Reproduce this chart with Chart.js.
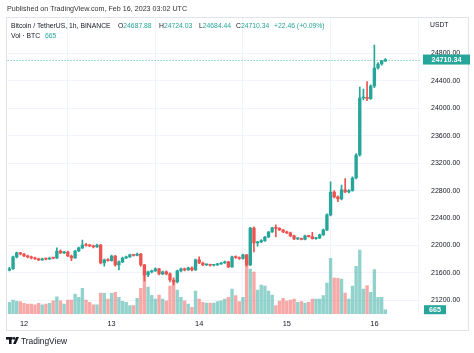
<!DOCTYPE html>
<html><head><meta charset="utf-8">
<script src="https://cdn.jsdelivr.net/npm/chart.js@4.4.0/dist/chart.umd.min.js"></script>
<style>
body{margin:0;background:#fff;}
#wrap{position:relative;width:474px;height:353px;overflow:hidden;font-family:"Liberation Sans",Arial,sans-serif;color:#131722;background:#fff;}
canvas{position:absolute;left:0;top:0;}
.t{position:absolute;white-space:nowrap;font-size:6.8px;line-height:9px;}
.g{color:#26a69a;}
</style></head><body>
<div id="wrap">
<canvas id="c" width="474" height="353"></canvas>
<div class="t" style="left:7px;top:5px;font-size:7.15px;color:#333">Published on TradingView.com, Feb 16, 2023 03:02 UTC</div>
<div class="t" style="left:11px;top:20.5px">Bitcoin / TetherUS, 1h, BINANCE</div>
<div class="t" style="left:118px;top:20.5px">O<span class="g">24687.88</span></div>
<div class="t" style="left:159px;top:20.5px">H<span class="g">24724.03</span></div>
<div class="t" style="left:199px;top:20.5px">L<span class="g">24684.44</span></div>
<div class="t" style="left:236px;top:20.5px">C<span class="g">24710.34</span></div>
<div class="t g" style="left:274px;top:20.5px">+22.46 (+0.09%)</div>
<div class="t" style="left:11px;top:30.5px">Vol · BTC</div>
<div class="t g" style="left:45px;top:30.5px">665</div>
<div class="t" style="left:430px;top:20px">USDT</div>
<div class="t" style="left:21px;top:335.5px;font-size:8.4px;line-height:11px;color:#131722">TradingView</div>
</div>
<script>
// hour offsets relative to Feb 12 2023 00:00 UTC (1h candles)
const hours = [-4,-3,-2,-1,
 0,1,2,3,4,5,6,7,8,9,10,11,12,13,14,15,16,17,18,19,20,21,22,23,
 24,25,26,27,28,29,30,31,32,33,34,35,36,37,38,39,40,41,42,43,44,45,46,47,
 48,49,50,51,52,53,54,55,56,57,58,59,60,61,62,63,64,65,66,67,68,69,70,71,
 72,73,74,75,76,77,78,79,80,81,82,83,84,85,86,87,88,89,90,91,92,93,94,95,
 96,97,98,99];
const openP = [21640,21660,21833,21891,
 21876,21847,21833,21818,21804,21789,21804,21800,21818,21815,21920,21891,21905,21847,21818,21920,21964,22007,22000,21993,21978,22007,21745,21789,
 21780,21847,21716,21760,21818,21833,21862,21855,21876,21716,21571,21615,21629,21658,21585,21615,21585,21497,21468,21629,21658,21643,21673,21643,
 21789,21745,21716,21720,21712,21716,21730,21745,21760,21687,21833,21825,21810,21862,21716,22255,22037,22050,22070,22124,22197,22256,22250,22226,
 22197,22183,22139,22095,22100,22090,22139,22130,22100,22110,22154,22227,22445,22780,22708,22678,22810,22780,22800,22984,23319,24150,24160,24140,
 24325,24587,24646,24687.88];
const highP = [21680,21845,21905,21900,
 21885,21860,21845,21830,21815,21815,21815,21830,21828,21964,21935,21915,21918,21860,21930,21975,22080,22030,22012,22005,22020,22015,21800,21810,
 21860,21855,21775,21830,21845,21875,21870,21890,21885,21725,21625,21640,21675,21665,21625,21630,21600,21530,21640,21670,21672,21685,21690,21800,
 21833,21758,21730,21728,21725,21740,21755,21772,21770,21845,21850,21835,21875,21870,22265,22270,22060,22085,22135,22205,22265,22300,22262,22235,
 22210,22195,22150,22112,22108,22150,22148,22190,22118,22165,22240,22460,22926,22800,22725,22880,22975,22815,23000,23340,24310,24280,24388,24340,
 24922,24665,24700,24724.03];
const lowP = [21630,21650,21820,21862,
 21835,21820,21805,21795,21780,21782,21790,21795,21805,21810,21880,21882,21835,21780,21810,21910,21955,21990,21982,21965,21970,21730,21700,21770,
 21772,21700,21643,21750,21808,21825,21845,21848,21700,21483,21545,21600,21620,21570,21575,21570,21470,21424,21455,21615,21630,21635,21630,21635,
 21735,21705,21705,21700,21702,21708,21722,21738,21675,21680,21812,21798,21800,21700,21705,21906,21990,22040,22060,22115,22190,22125,22215,22185,
 22172,22130,22085,22085,22080,22082,22120,22092,22090,22100,22145,22215,22430,22695,22640,22665,22770,22765,22790,22970,23300,24120,24110,24130,
 24300,24570,24630,24684.44];
const closeP = [21660,21833,21891,21876,
 21847,21833,21818,21804,21789,21804,21800,21818,21815,21920,21891,21905,21847,21818,21920,21964,22007,22000,21993,21978,22007,21745,21789,21780,
 21847,21716,21760,21818,21833,21862,21855,21876,21716,21571,21615,21629,21658,21585,21615,21585,21497,21468,21629,21658,21643,21673,21643,21789,
 21745,21716,21720,21712,21716,21730,21745,21760,21687,21833,21825,21810,21862,21716,22255,22037,22050,22070,22124,22197,22256,22250,22226,22197,
 22183,22139,22095,22100,22090,22139,22130,22100,22110,22154,22227,22445,22780,22708,22678,22810,22780,22800,22984,23319,24150,24160,24140,24325,
 24587,24646,24687.88,24710.34];
const volumeBTC = [1800,2170,1970,1910,
 1660,1550,1550,1440,1660,1440,1550,1660,2060,2680,2060,1550,2170,2170,3100,2590,3980,2170,1810,1440,1440,3260,3210,2330,
 3210,3360,2590,1970,1810,1290,1290,2430,3980,6510,4190,2880,2330,2950,2330,2060,4340,4960,3720,2590,2060,1550,1040,3570,
 2330,1810,1710,1710,1710,1910,2060,2330,2590,3880,2840,1910,2590,8990,6980,6510,3720,4500,4340,3570,2950,1290,2020,2430,
 2020,2170,2330,1810,1910,1710,1810,2330,2330,2330,2840,4810,8630,5580,5530,5430,3260,2330,4340,7390,9920,3880,4390,3360,
 6870,2590,2590,665];
const dayTicks = [0,24,48,72,96];
const dayLabels = ['12','13','14','15','16'];
const priceTicks = [21200,21600,22000,22400,22800,23200,23600,24000,24400,24800];
const lastPrice = 24710.34;
const lastVolume = 665;

const UP = '#26a69a', DOWN = '#ef5350';
const UPV = 'rgba(38,166,154,0.5)', DOWNV = 'rgba(239,83,80,0.5)';
const isUp = closeP.map((c,i)=> c >= openP[i]);

const overlay = {
  id:'overlay',
  beforeDatasetsDraw(chart){
    const ctx = chart.ctx, a = chart.chartArea;
    const y = Math.round(chart.scales.y.getPixelForValue(lastPrice)) + 0.5;
    ctx.save();
    ctx.strokeStyle = 'rgba(38,166,154,0.8)';
    ctx.lineWidth = 1;
    ctx.setLineDash([1,2]);
    ctx.beginPath(); ctx.moveTo(a.left, y); ctx.lineTo(a.right, y); ctx.stroke();
    ctx.restore();
  },
  afterDraw(chart){
    const ctx = chart.ctx;
    ctx.save();
    ctx.strokeStyle = '#e0e3eb'; ctx.lineWidth = 1;
    ctx.strokeRect(6.5, 17.5, 462, 313);
    const y = chart.scales.y.getPixelForValue(lastPrice);
    ctx.fillStyle = UP;
    ctx.fillRect(423, y-5, 47, 10);
    ctx.fillStyle = '#fff';
    ctx.font = 'bold 7.2px "Liberation Sans", Arial, sans-serif';
    ctx.textAlign = 'center'; ctx.textBaseline = 'middle';
    ctx.fillText(lastPrice.toFixed(2), 446.5, y+0.5);
    const yv = chart.scales.v.getPixelForValue(lastVolume);
    ctx.fillStyle = UP;
    ctx.fillRect(424, yv-4.5, 22, 9);
    ctx.fillStyle = '#fff';
    ctx.fillText(String(lastVolume), 435, yv+0.5);
    ctx.fillStyle = '#131722';
    ctx.fillRect(6, 337, 6.5, 2.6);
    ctx.fillRect(9, 337, 2.6, 7);
    ctx.beginPath(); ctx.arc(14, 338.3, 1.4, 0, Math.PI*2); ctx.fill();
    ctx.beginPath(); ctx.moveTo(16.2,337); ctx.lineTo(19,337); ctx.lineTo(15.8,344); ctx.lineTo(13,344); ctx.closePath(); ctx.fill();
    ctx.restore();
  }
};

new Chart(document.getElementById('c'), {
  type:'bar',
  data:{
    datasets:[
      { label:'Volume', yAxisID:'v', order:3, grouped:false, barThickness:2.7,
        data: hours.map((h,i)=>({x:h, y:volumeBTC[i]})),
        backgroundColor: isUp.map(u=>u?UPV:DOWNV) },
      { label:'Wick', yAxisID:'y', order:2, grouped:false, barThickness:1,
        data: hours.map((h,i)=>({x:h, y:[lowP[i], highP[i]]})),
        backgroundColor: isUp.map(u=>u?UP:DOWN) },
      { label:'Body', yAxisID:'y', order:1, grouped:false, barThickness:2.7, minBarLength:1,
        data: hours.map((h,i)=>({x:h, y:[openP[i], closeP[i]]})),
        backgroundColor: isUp.map(u=>u?UP:DOWN) }
    ]
  },
  options:{
    responsive:false, animation:false, devicePixelRatio:1,
    layout:{padding:{left:7.575, right:0, top:18, bottom:0}},
    plugins:{legend:{display:false}, tooltip:{enabled:false}},
    scales:{
      x:{ type:'linear', min:-4.5, max:108.5, offset:false,
        afterBuildTicks:s=>{ s.ticks = dayTicks.map(v=>({value:v})); },
        afterFit:s=>{ s.height = 39; },
        grid:{color:'#f0f3fa', drawTicks:false},
        border:{display:false},
        ticks:{ padding:6, color:'#131722', font:{size:7.4, family:'"Liberation Sans", Arial, sans-serif'},
          maxRotation:0, autoSkip:false, callback:v=>dayLabels[dayTicks.indexOf(v)] } },
      y:{ position:'right', min:21001, max:25316,
        afterBuildTicks:s=>{ s.ticks = priceTicks.map(v=>({value:v})); },
        afterFit:s=>{ s.width = 54; },
        grid:{color:'#f0f3fa', drawTicks:false},
        border:{display:false},
        ticks:{ padding:11, color:'#131722', font:{size:7.0, family:'"Liberation Sans", Arial, sans-serif'},
          callback:v=>Number(v).toFixed(2) } },
      v:{ display:false, min:0, max:45880 }
    }
  },
  plugins:[overlay]
});
</script>
</body></html>
